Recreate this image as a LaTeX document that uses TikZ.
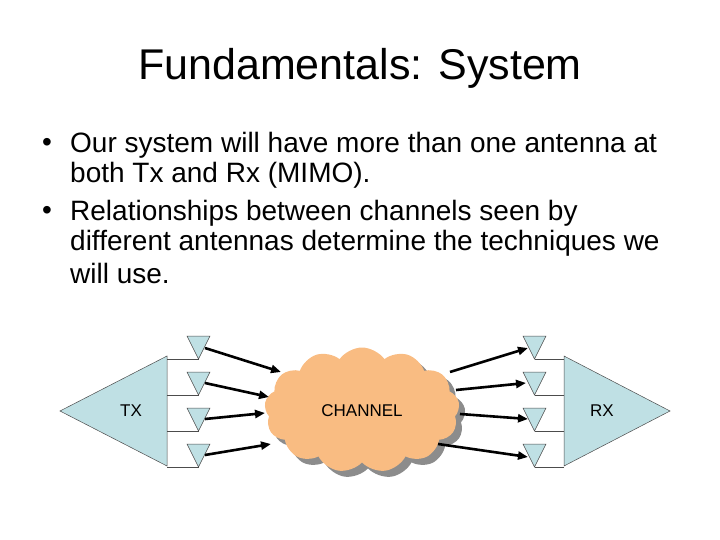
\documentclass[tikz,border=0pt]{standalone}
\usepackage{fontspec}
\setmainfont{Liberation Sans}[Ligatures=NoCommon]
\usetikzlibrary{shapes.symbols,arrows.meta}
\definecolor{tri}{HTML}{BFE0E4}
\definecolor{cl}{HTML}{F9BC82}
\begin{document}
\begin{tikzpicture}[x=1pt,y=-1pt,
  ant/.style={fill=tri,draw=black!70,line width=0.5pt},
  arr/.style={-{Triangle[length=10pt,width=8pt]},line width=2.6pt},
  txt/.style={font=\fontsize{28}{30}\selectfont,anchor=west,inner sep=0}]
\useasboundingbox (0,0) rectangle (720,540);
\node[font=\fontsize{43}{46}\selectfont] (title) at (360,68) {Fundamentals: System};
\node[txt] (b1) at (42,145) {•};
\node[txt] (l1) at (70,145) {Our system will have more than one antenna at};
\node[txt] (l2) at (70,175) {both Tx and Rx (MIMO).};
\node[txt] (b2) at (42,213) {•};
\node[txt] (l3) at (70,213) {Relationships between channels seen by};
\node[txt] (l4) at (70,243) {different antennas determine the techniques we};
\node[txt] (l5) at (70,273) {will use.};
% TX / RX
\draw[ant] (60,411) -- (167,356) -- (167,466) -- cycle;
\draw[ant] (670,411) -- (564,356) -- (564,466) -- cycle;
\node[font=\fontsize{17}{20}\selectfont] (tx) at (131,411) {TX};
\node[font=\fontsize{17}{20}\selectfont] (rx) at (602,411) {RX};
\foreach \i/\y in {1/336,2/372,3/408,4/444}{
  \draw[ant] (187,\y) -- (210,\y) -- (198.5,\y+23) -- cycle;
  \coordinate (ta\i) at (198.5,\y+23);
  \draw[black!70,line width=0.6pt] (167,\y+23) -- (ta\i);
  \draw[ant] (523,\y) -- (546,\y) -- (534.5,\y+23) -- cycle;
  \coordinate (ra\i) at (534.5,\y+23);
  \draw[black!70,line width=0.6pt] (564,\y+23) -- (ra\i);
}
% cloud
\node[cloud,cloud puffs=13,cloud puff arc=110,aspect=1.6,minimum width=195,minimum height=125,fill=black!45] (sh) at (368,416) {};
\node[cloud,cloud puffs=13,cloud puff arc=110,aspect=1.6,minimum width=195,minimum height=125,fill=cl] (ch) at (362,410) {};
\node[font=\fontsize{17}{20}\selectfont] (chl) at (362,411) {CHANNEL};
% arrows
\coordinate (s1) at (205,348); \coordinate (e1) at (281,372);
\coordinate (s2) at (205,383); \coordinate (e2) at (269,397);
\coordinate (s3) at (205,419); \coordinate (e3) at (265,413);
\coordinate (s4) at (205,455); \coordinate (e4) at (271,444);
\coordinate (q1) at (450,372); \coordinate (f1) at (528,348);
\coordinate (q2) at (456,390); \coordinate (f2) at (526,383);
\coordinate (q3) at (460,414); \coordinate (f3) at (528,419);
\coordinate (q4) at (438,444); \coordinate (f4) at (528,457);
\foreach \i in {1,...,4}{
  \draw[arr] (s\i) -- (e\i);
  \draw[arr] (q\i) -- (f\i);
}
\end{tikzpicture}
\end{document}
